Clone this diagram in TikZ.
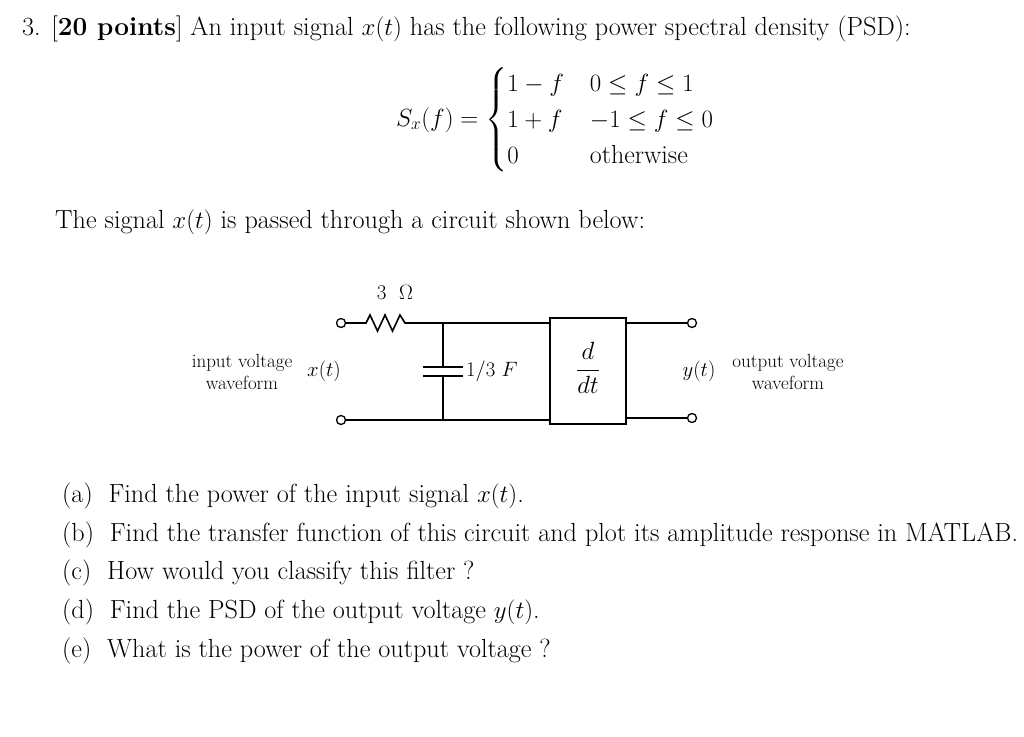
\documentclass[tikz,border=0pt]{standalone}
\usepackage{amsmath}
\begin{document}
\begin{tikzpicture}[x=1pt,y=-1pt,
  body/.style={anchor=base west,inner sep=0pt,font=\fontsize{26.2}{30}\selectfont},
  small/.style={inner sep=0pt,font=\fontsize{19}{22}\selectfont,align=center},
  lab/.style={inner sep=0pt,font=\fontsize{21}{24}\selectfont},
  wire/.style={line width=1.6pt},
  term/.style={circle,draw,line width=1.3pt,inner sep=0pt,minimum size=9pt,fill=white}]
\useasboundingbox (0,0) rectangle (1024,736);
\node[body] (l1) at (22,35) {3. [\textbf{20 points}] An input signal $x(t)$ has the following power spectral density (PSD):};
\node[anchor=west,inner sep=0pt,font=\fontsize{26}{30}\selectfont] (eq) at (396,120) {$S_x(f)=\begin{cases}1-f & 0\le f\le 1\\ 1+f & -1\le f\le 0\\ 0 & \text{otherwise}\end{cases}$};
\node[body] (l2) at (55,228) {The signal $x(t)$ is passed through a circuit shown below:};
% circuit
\node[term] (t1) at (341,323) {};
\node[term] (t2) at (341,420) {};
\node[term] (t3) at (692,323) {};
\node[term] (t4) at (692,418) {};
\coordinate (r1) at (366,323);
\coordinate (r2) at (405,323);
\coordinate (ct) at (443,323);
\coordinate (cb) at (443,420);
\node[draw,line width=1.3pt,minimum width=76pt,minimum height=106pt,inner sep=0pt] (box) at (588,371) {};
\draw[wire] (t1) -- (r1) -- ++(4,-8) -- ++(7.5,16) -- ++(7.5,-16) -- ++(7.5,16) -- ++(7.5,-16) -- ++(5,8) -- (r2) -- (ct) -- (box.west|-ct);
\draw[wire] (t2) -- (cb) -- (box.west|-cb);
\draw[wire] (ct) -- (443,367);
\draw[wire] (cb) -- (443,376);
\draw[line width=2.5pt] (423,367) -- (463,367) (423,376) -- (463,376);
\draw[wire] (box.east|-t3) -- (t3);
\draw[wire] (box.east|-t4) -- (t4);
\node[font=\fontsize{27}{30}\selectfont] (dd) at (588,368) {$\dfrac{d}{dt}$};
\node[lab] (R) at (395,293) {3\ \ $\Omega$};
\node[lab,anchor=west] (C) at (466,371) {$1/3\ F$};
\node[small] (in) at (242,372) {input voltage\\waveform};
\node[lab] (xt) at (324,371) {$x(t)$};
\node[lab] (yt) at (699,371) {$y(t)$};
\node[small] (out) at (788,372) {output voltage\\waveform};
% items
\node[body] (a) at (62,502) {(a)\ \ Find the power of the input signal $x(t)$.};
\node[body] (b) at (62,541) {(b)\ \ Find the transfer function of this circuit and plot its amplitude response in MATLAB.};
\node[body] (c) at (62,579) {(c)\ \ How would you classify this filter ?};
\node[body] (d) at (62,618) {(d)\ \ Find the PSD of the output voltage $y(t)$.};
\node[body] (e) at (62,657) {(e)\ \ What is the power of the output voltage ?};
\end{tikzpicture}
\end{document}
